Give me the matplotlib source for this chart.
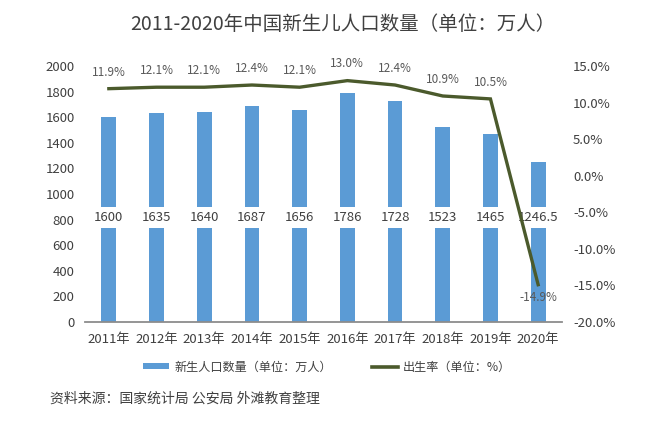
import matplotlib
matplotlib.use("Agg")
import matplotlib.pyplot as plt
from matplotlib.lines import Line2D
from matplotlib.patches import Patch

plt.rcParams['font.family'] = ['Noto Sans CJK SC', 'DejaVu Sans']

years = ['2011年', '2012年', '2013年', '2014年', '2015年', '2016年', '2017年', '2018年', '2019年', '2020年']
births = [1600, 1635, 1640, 1687, 1656, 1786, 1728, 1523, 1465, 1246.5]
birth_labels = ['1600', '1635', '1640', '1687', '1656', '1786', '1728', '1523', '1465', '1246.5']
rate = [11.9, 12.1, 12.1, 12.4, 12.1, 13.0, 12.4, 10.9, 10.5, -14.9]
left_ticks = [0, 200, 400, 600, 800, 1000, 1200, 1400, 1600, 1800, 2000]
right_ticks = [-20, -15, -10, -5, 0, 5, 10, 15]

bar_color = '#5b9bd5'
line_color = '#4b5a2c'
text_color = '#404040'
label_color = '#595959'

fig = plt.figure(figsize=(6.6, 4.24), dpi=100)
ax = fig.add_axes([85/660, 1-322/424, (562-85)/660, (322-66)/424])
x = list(range(len(years)))

ax.bar(x, births, width=0.31, color=bar_color, zorder=2)
ax.set_xlim(-0.5, len(years)-0.5)
ax.set_ylim(0, 2000)
ax.set_yticks(left_ticks)
ax.set_xticks(x)
ax.set_xticklabels(years)
for s in ['top', 'left', 'right']:
    ax.spines[s].set_visible(False)
ax.spines['bottom'].set_color('#8c8c8c')
ax.spines['bottom'].set_linewidth(1.3)
ax.tick_params(axis='y', length=0, pad=7.5, labelsize=9.5, labelcolor=text_color)
ax.tick_params(axis='x', length=0, pad=8, labelsize=9.5, labelcolor=text_color)

for xi, lab in zip(x, birth_labels):
    ax.text(xi, 816, lab, ha='center', va='center', fontsize=9.5, color=text_color,
            zorder=3, bbox=dict(boxstyle='square,pad=0.28', fc='white', ec='none'))

ax2 = ax.twinx()
ax2.set_ylim(-20, 15)
ax2.set_yticks(right_ticks)
ax2.set_yticklabels([f'{v:.1f}%' for v in right_ticks])
for s in ['top', 'left', 'right', 'bottom']:
    ax2.spines[s].set_visible(False)
ax2.tick_params(axis='y', length=0, pad=8, labelsize=9.5, labelcolor=text_color)
ax2.plot(x, rate, color=line_color, lw=2.4, zorder=5, solid_joinstyle='miter')
for xi, r in zip(x, rate):
    if r < 0:
        ax2.annotate(f'{r:.1f}%', (xi, r), xytext=(0, -9), textcoords='offset points',
                     ha='center', va='center', fontsize=8.5, color=label_color)
    else:
        ax2.annotate(f'{r:.1f}%', (xi, r), xytext=(0, 12), textcoords='offset points',
                     ha='center', va='center', fontsize=8.5, color=label_color)

fig.text(343/660, 1-25/424, '2011-2020年中国新生儿人口数量（单位：万人）', ha='center', va='center',
         fontsize=14, color=text_color)

handles = [Patch(facecolor=bar_color, edgecolor='none'),
           Line2D([0], [0], color=line_color, lw=2.6)]
labels = ['新生人口数量（单位：万人）', '出生率（单位：%）']
leg = fig.legend(handles, labels, loc='center', bbox_to_anchor=(327/660, 1-367/424), ncol=2,
                 frameon=False, fontsize=8.7, handlelength=2.2, handleheight=0.35,
                 columnspacing=3.3, handletextpad=0.4)
for t in leg.get_texts():
    t.set_color(text_color)

fig.text(50/660, 1-399/424, '资料来源：国家统计局 公安局 外滩教育整理', ha='left', va='center',
         fontsize=10, color=text_color)

fig.savefig('out.png', dpi=100)
